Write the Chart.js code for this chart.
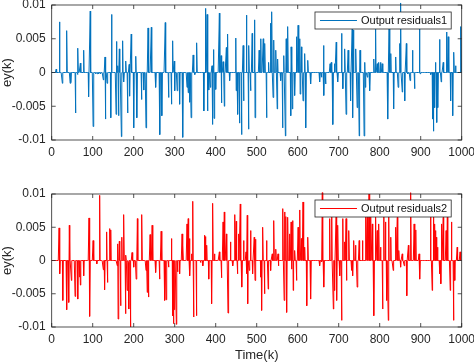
<!DOCTYPE html>
<html>
<head>
<meta charset="utf-8">
<script src="https://cdn.jsdelivr.net/npm/chart.js@4.4.0/dist/chart.umd.min.js"></script>
<style>
  html, body { margin: 0; padding: 0; background: #ffffff; }
  #wrap { position: relative; width: 474px; height: 363px; overflow: hidden; background: #fff; }
  canvas { position: absolute; left: 0; }
  #c1 { top: 0; }
  #c2 { top: 180px; }
</style>
</head>
<body>
<div id="wrap">
  <canvas id="c1" width="474" height="180"></canvas>
  <canvas id="c2" width="474" height="183"></canvas>
</div>
<script>
// ---- Data ----
const kMin = 0;
const kMax = 1000;
const xTickValues = [0, 100, 200, 300, 400, 500, 600, 700, 800, 900, 1000];
const yTickValues = [-0.01, -0.005, 0, 0.005, 0.01];
const yLabel = "ey(k)";
const xLabel = "Time(k)";
const series1Label = "Output residuals1";
const series2Label = "Output residuals2";

// Output residuals1: sample index k and residual value at the nonzero samples (zero elsewhere)
const residual1K = [11,19,26,37,45,47,58,63,64,70,78,90,94,101,107,111,115,119,126,130,131,135,144,146,157,158,161,163,165,170,173,176,181,185,189,190,194,200,205,208,219,225,230,235,243,254,263,264,269,277,285,292,295,299,300,306,312,320,330,333,337,340,345,349,354,371,375,379,380,383,387,391,392,395,396,400,409,413,414,418,421,426,429,434,449,450,454,458,463,467,468,475,480,481,485,489,495,496,506,510,516,520,524,529,534,537,540,542,547,550,551,559,563,566,570,572,576,583,584,587,593,597,601,605,606,609,613,617,620,625,632,654,658,663,664,668,679,682,686,690,694,698,707,710,715,718,723,729,733,734,736,742,745,750,752,762,764,765,770,776,786,790,794,798,802,806,820,823,827,834,839,845,849,851,855,861,865,869,874,880,885,897,899,925,929,931,934,936,939,942,946,950,955,963,967,973,978,981,985,998];
const residual1V = [0.0005,0.0075,-0.0016,0.0062,-0.0016,-0.0015,-0.0060,-0.0003,0.0036,0.0014,0.0033,-0.0036,0.0091,-0.0080,-0.0002,-0.0002,-0.0002,-0.0002,-0.0011,0.0023,-0.0069,-0.0016,-0.0067,0.0086,-0.0062,0.0046,0.0010,-0.0064,0.0035,-0.0095,0.0047,-0.0014,0.0017,-0.0060,0.0012,-0.0035,0.0057,-0.0082,0.0024,-0.0067,-0.0040,-0.0026,-0.0082,0.0066,0.0067,-0.0022,-0.0025,-0.0092,-0.0064,0.0074,-0.0037,-0.0047,0.0047,0.0017,-0.0027,-0.0027,-0.0047,-0.0096,-0.0022,-0.0030,-0.0044,-0.0067,0.0026,-0.0003,0.0044,-0.0057,0.0095,0.0086,-0.0057,-0.0026,-0.0022,0.0010,-0.0077,0.0034,-0.0068,-0.0025,0.0088,0.0025,-0.0045,0.0016,-0.0050,0.0037,0.0057,-0.0012,0.0051,-0.0027,-0.0062,-0.0075,-0.0092,0.0040,-0.0042,0.0085,-0.0084,0.0040,-0.0027,0.0058,0.0078,-0.0067,0.0033,0.0050,0.0050,0.0043,-0.0067,0.0015,0.0073,0.0090,-0.0037,0.0048,0.0033,-0.0054,0.0020,-0.0012,-0.0082,0.0025,-0.0094,0.0050,0.0068,-0.0064,0.0038,-0.0054,-0.0034,0.0053,0.0070,0.0050,-0.0032,0.0038,-0.0042,0.0028,-0.0082,0.0018,-0.0017,-0.0014,-0.0007,0.0040,-0.0034,-0.0017,0.0013,0.0015,-0.0077,0.0013,0.0045,-0.0014,0.0058,-0.0024,0.0035,-0.0062,0.0033,-0.0042,0.0065,-0.0067,0.0063,0.0035,-0.0052,-0.0094,0.0033,-0.0094,0.0015,-0.0022,-0.0007,-0.0027,0.0020,0.0065,0.0013,0.0015,0.0015,0.0013,-0.0069,0.0080,0.0028,-0.0054,0.0023,-0.0022,0.0043,0.0103,-0.0029,-0.0042,0.0043,-0.0002,-0.0012,0.0033,-0.0024,0.0065,-0.0002,-0.0003,-0.0069,-0.0087,-0.0052,0.0015,-0.0074,-0.0052,0.0049,-0.0014,0.0015,0.0060,0.0053,-0.0042,-0.0064,0.0030,0.0010,0.0068];

// Output residuals2
const residual2K = [18,20,27,37,42,43,48,57,64,68,70,78,91,92,93,101,110,117,126,129,134,136,142,144,160,161,162,165,168,171,176,180,181,184,187,188,192,196,200,206,209,220,230,233,236,240,245,254,263,267,276,279,285,292,295,297,299,304,307,312,318,320,330,333,336,337,341,344,346,353,363,369,373,375,378,383,390,393,397,409,414,418,421,426,430,436,442,447,450,453,456,460,464,468,474,475,477,478,482,485,490,494,496,497,510,512,515,519,524,528,534,538,542,547,552,553,564,567,568,571,573,576,580,584,585,588,589,593,597,601,605,609,613,617,622,625,632,654,659,660,664,678,683,687,690,694,695,698,703,707,710,715,718,719,725,731,734,737,741,745,750,758,766,770,774,778,782,786,790,794,798,802,807,810,814,817,821,822,827,833,839,843,847,851,855,860,866,870,876,884,888,896,898,924,928,931,934,936,938,941,947,949,951,955,962,965,972,975,980,983,989,996];
const residual2V = [0.0049,-0.0020,-0.0060,-0.0074,-0.0063,0.0053,-0.0030,-0.0054,-0.0058,-0.0025,-0.0037,-0.0023,0.0064,0.0020,-0.0084,0.0030,-0.0005,0.0098,-0.0014,-0.0044,0.0043,-0.0033,0.0048,0.0046,-0.0008,0.0025,-0.0088,0.0029,-0.0068,0.0035,0.0069,-0.0080,0.0008,-0.0045,-0.0003,-0.0073,-0.0100,0.0012,-0.0010,-0.0028,0.0063,0.0069,-0.0015,-0.0048,-0.0055,0.0039,0.0053,-0.0018,-0.0028,0.0044,-0.0060,-0.0059,-0.0010,0.0033,-0.0083,-0.0095,-0.0074,-0.0096,-0.0017,-0.0020,0.0040,0.0023,0.0055,0.0063,0.0033,-0.0023,0.0010,0.0089,-0.0085,-0.0083,-0.0003,-0.0008,0.0038,0.0036,0.0023,-0.0028,-0.0065,0.0086,0.0010,0.0013,-0.0026,0.0058,0.0073,0.0040,-0.0079,0.0028,-0.0008,0.0069,0.0059,-0.0020,0.0040,0.0085,-0.0040,0.0030,0.0013,-0.0020,0.0068,-0.0065,-0.0015,0.0045,-0.0020,0.0035,-0.0030,0.0032,-0.0025,-0.0075,0.0050,-0.0050,0.0030,-0.0043,-0.0015,0.0010,0.0060,0.0017,0.0010,-0.0008,0.0078,-0.0060,0.0073,0.0066,-0.0078,0.0065,0.0040,0.0058,-0.0013,0.0060,-0.0045,0.0015,-0.0030,0.0050,0.0076,0.0033,0.0088,0.0020,-0.0068,0.0035,-0.0058,-0.0008,-0.0002,0.0102,-0.0040,0.0063,0.0070,-0.0073,-0.0045,0.0078,-0.0060,0.0053,-0.0023,-0.0090,0.0063,0.0028,0.0063,-0.0030,0.0045,-0.0015,-0.0023,0.0030,0.0023,-0.0040,0.0030,0.0030,0.0070,0.0085,0.0100,0.0078,0.0055,-0.0083,0.0070,0.0045,0.0055,0.0020,-0.0073,0.0078,0.0058,-0.0060,-0.0090,0.0070,0.0035,-0.0015,0.0050,0.0065,0.0015,-0.0010,0.0010,-0.0008,-0.0053,0.0023,0.0102,0.0055,0.0046,0.0010,-0.0028,0.0080,-0.0045,0.0070,0.0055,0.0045,0.0035,0.0020,-0.0020,-0.0035,0.0055,0.0065,0.0045,0.0070,-0.0045,0.0058,-0.0090,-0.0030,0.0020,0.0013];

// ---- Build chart ----
const FONT = '"Liberation Sans", Arial, Helvetica, sans-serif';
const AXIS_COLOR = '#262626';

function buildPoints(K, V) {
  const lookup = new Map();
  K.forEach((k, i) => lookup.set(k, V[i]));
  const pts = [];
  for (let k = kMin; k <= kMax; k++) pts.push({ x: k, y: lookup.has(k) ? lookup.get(k) : 0 });
  return pts;
}

function fmtY(v) {
  const r = Number(Number(v).toFixed(4));
  return r === 0 ? '0' : String(r);
}

const boxTicksPlugin = {
  id: 'boxTicks',
  afterDatasetsDraw(chart) {
    const { ctx, chartArea: a, scales } = chart;
    const xs = scales.x, ys = scales.y;
    ctx.save();
    ctx.strokeStyle = AXIS_COLOR;
    ctx.lineWidth = 0.8;
    ctx.strokeRect(a.left, a.top, a.right - a.left, a.bottom - a.top);
    const tl = 4;
    ctx.beginPath();
    xTickValues.forEach(v => {
      const px = xs.getPixelForValue(v);
      ctx.moveTo(px, a.bottom); ctx.lineTo(px, a.bottom - tl);
      ctx.moveTo(px, a.top); ctx.lineTo(px, a.top + tl);
    });
    yTickValues.forEach(v => {
      const py = ys.getPixelForValue(v);
      ctx.moveTo(a.left, py); ctx.lineTo(a.left + tl, py);
      ctx.moveTo(a.right, py); ctx.lineTo(a.right - tl, py);
    });
    ctx.stroke();
    ctx.restore();
  }
};

const insideLegendPlugin = {
  id: 'insideLegend',
  afterDraw(chart, args, opts) {
    const { ctx, chartArea: a } = chart;
    const ds = chart.data.datasets[0];
    ctx.save();
    ctx.font = opts.fontSize + 'px ' + FONT;
    const tw = ctx.measureText(ds.label).width;
    const lineLen = 37, gapL = 5, gapM = 4, gapR = 4;
    const w = gapL + lineLen + gapM + tw + gapR;
    const h = 17;
    const right = a.right - opts.offsetRight;
    const left = right - w;
    const top = a.top + opts.offsetTop;
    ctx.fillStyle = '#ffffff';
    ctx.fillRect(left, top, w, h);
    ctx.strokeStyle = AXIS_COLOR;
    ctx.lineWidth = 0.8;
    ctx.strokeRect(left, top, w, h);
    ctx.strokeStyle = ds.borderColor;
    ctx.lineWidth = 1;
    ctx.beginPath();
    ctx.moveTo(left + gapL, top + h / 2);
    ctx.lineTo(left + gapL + lineLen, top + h / 2);
    ctx.stroke();
    ctx.fillStyle = '#111111';
    ctx.textBaseline = 'middle';
    ctx.fillText(ds.label, left + gapL + lineLen + gapM, top + h / 2 + 0.5);
    ctx.restore();
  }
};

function makePanel(id, K, V, color, label, cfg) {
  return new Chart(document.getElementById(id), {
    type: 'line',
    data: {
      datasets: [{
        label: label,
        data: buildPoints(K, V),
        borderColor: color,
        borderWidth: 1,
        pointRadius: 0,
        tension: 0,
        fill: false,
        clip: false
      }]
    },
    plugins: [boxTicksPlugin, insideLegendPlugin],
    options: {
      responsive: false,
      animation: false,
      devicePixelRatio: 1,
      layout: { padding: { top: cfg.padTop, right: cfg.padRight, bottom: 0, left: 0 } },
      plugins: {
        legend: { display: false },
        tooltip: { enabled: false },
        insideLegend: { fontSize: 11, offsetRight: 10.5, offsetTop: cfg.legendTop }
      },
      scales: {
        x: {
          type: 'linear',
          min: kMin, max: kMax,
          afterBuildTicks: s => { s.ticks = xTickValues.map(v => ({ value: v })); },
          afterFit: s => { s.height = cfg.xHeight; s.paddingLeft = 0; s.paddingRight = 0; },
          grid: { display: false, drawTicks: false },
          border: { display: false },
          ticks: { color: AXIS_COLOR, font: { family: FONT, size: 12 }, padding: 5, maxRotation: 0, autoSkip: false,
                   callback: v => String(v) },
          title: cfg.showXTitle ? { display: true, text: xLabel, color: AXIS_COLOR, font: { family: FONT, size: 13 }, padding: { top: 0, bottom: 0 } } : { display: false }
        },
        y: {
          type: 'linear',
          min: -0.01, max: 0.01,
          afterBuildTicks: s => { s.ticks = yTickValues.map(v => ({ value: v })); },
          afterFit: s => { s.width = 51.7; s.paddingTop = 0; s.paddingBottom = 0; },
          grid: { display: false, drawTicks: false },
          border: { display: false },
          ticks: { color: AXIS_COLOR, font: { family: FONT, size: 12 }, padding: 6, autoSkip: false, callback: v => fmtY(v) },
          title: { display: true, text: yLabel, color: AXIS_COLOR, font: { family: FONT, size: 13 }, padding: { top: 0, bottom: 0 } }
        }
      }
    }
  });
}

makePanel('c1', residual1K, residual1V, '#0072BD', series1Label,
  { padTop: 5, padRight: 12.3, xHeight: 40, legendTop: 7, showXTitle: false });
makePanel('c2', residual2K, residual2V, '#FF0000', series2Label,
  { padTop: 14, padRight: 12.3, xHeight: 36, legendTop: 6, showXTitle: true });
</script>
</body>
</html>
